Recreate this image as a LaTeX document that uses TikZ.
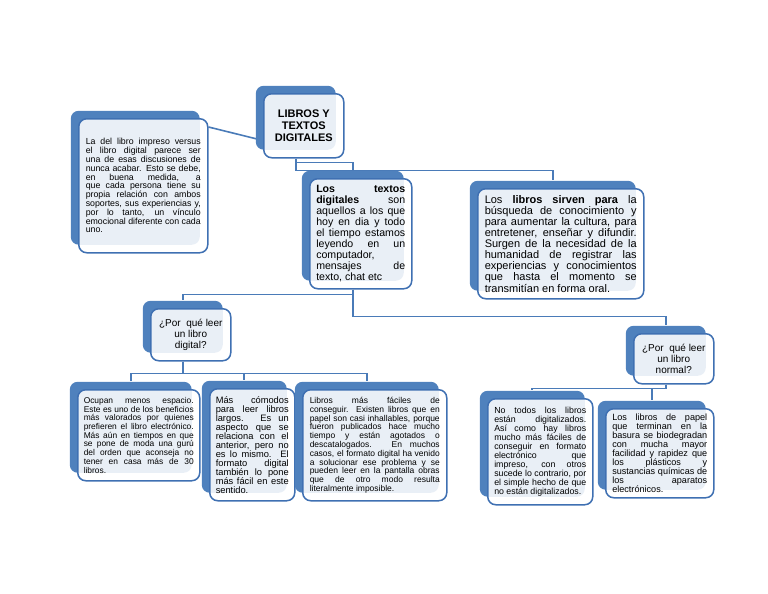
\documentclass[tikz,border=0pt]{standalone}
\usepackage{fontspec}
\setmainfont{Liberation Sans}
\usetikzlibrary{shadows, backgrounds}
\definecolor{backBlue}{HTML}{4F81BD}
\definecolor{edgeBlue}{HTML}{3F70B2}
\definecolor{linkBlue}{HTML}{4A7BB8}
\hyphenpenalty=10000
\exhyphenpenalty=10000
\tolerance=9999
\emergencystretch=20pt
\tikzset{
  % front card over a solid blue copy pushed up and to the left
  card/.style      = {draw=edgeBlue, line width=1.5pt, rounded corners=8pt,
                      fill=white, fill opacity=0.88, text opacity=1,
                      anchor=north west, inner xsep=6pt, inner ysep=4pt, align=justify,
                      general shadow={fill=backBlue, fill opacity=1, draw=none,
                                      shadow xshift=-8pt, shadow yshift=8pt}},
  link/.style      = {draw=linkBlue, line width=1.6pt, rounded corners=0pt},
  bodytxt/.style 2 args = {font=\fontsize{#1}{#2}\selectfont},
  asktxt/.style    = {font=\fontsize{10}{11}\selectfont, align=center},
}

\begin{document}
\begin{tikzpicture}[x=1pt, y=-1pt]
  \useasboundingbox (0,0) rectangle (768,594);
  % --- top level ----------------------------------------------------------
  \node[card, align=center, font=\bfseries\fontsize{11}{12}\selectfont,
        minimum width=80pt, minimum height=64pt] (root) at (263,93)
        {LIBROS Y\\TEXTOS\\DIGITALES};
  \node[card, bodytxt={8.8}{8.8}, text width=115pt, minimum width=129pt, minimum height=134pt] (intro) at (78,118)
        {La del libro impreso versus\linebreak el libro digital parece ser\linebreak
         una de esas discusiones de\linebreak nunca acabar. Esto se debe,\linebreak
         en buena medida, a\linebreak que cada persona tiene su\linebreak
         propia relación con ambos\linebreak soportes, sus experiencias y,\linebreak
         por lo tanto, un vínculo\linebreak emocional diferente con cada\linebreak uno.};
  % --- second level ---------------------------------------------------------
  \node[card, bodytxt={10.6}{11}, text width=89pt, minimum width=102pt, minimum height=110pt] (digitales) at (309,178)
        {\textbf{Los textos}\linebreak \textbf{digitales} son\linebreak aquellos a los que\linebreak
         hoy en dia y todo\linebreak el tiempo estamos\linebreak leyendo en un\linebreak
         computador,\newline mensajes de\linebreak texto, chat etc};
  \node[card, bodytxt={11}{11.1}, text width=152pt, minimum width=166pt, minimum height=110pt] (libros) at (477,188)
        {Los \textbf{libros sirven para} la\linebreak búsqueda de conocimiento y\linebreak
         para aumentar la cultura, para\linebreak entretener, enseñar y difundir.\linebreak
         Surgen de la necesidad de la\linebreak humanidad de registrar las\linebreak
         experiencias y conocimientos\linebreak que hasta el momento se\linebreak
         transmitían en forma oral.};
  % --- questions --------------------------------------------------------------
  \node[card, asktxt, minimum width=80pt, minimum height=52pt] (qdigital) at (150,308)
        {¿Por\ \ qué leer\\un libro\\digital?};
  \node[card, asktxt, minimum width=80pt, minimum height=50pt] (qnormal) at (633,333)
        {¿Por\ \ qué leer\\un libro\\normal?};
  % --- answers ------------------------------------------------------------------
  \node[card, bodytxt={8.4}{8.7}, text width=110pt, minimum width=120pt, minimum height=91pt] (espacio) at (77,389)
        {Ocupan menos espacio.\linebreak Este es uno de los beneficios\linebreak
         más valorados por quienes\linebreak prefieren el libro electrónico.\linebreak
         Más aún en tiempos en que\linebreak se pone de moda una gurú\linebreak
         del orden que aconseja no\linebreak tener en casa más de 30\linebreak libros.};
  \node[card, bodytxt={9.3}{9}, text width=73pt, minimum width=84pt, minimum height=112pt] (comodos) at (209,388)
        {Más cómodos\linebreak para leer libros\linebreak largos. Es un\linebreak
         aspecto que se\linebreak relaciona con el\linebreak anterior, pero no\linebreak
         es lo mismo. El\linebreak formato digital\linebreak también lo pone\linebreak
         más fácil en este\linebreak sentido.};
  \node[card, bodytxt={8.5}{8.8}, text width=130pt, minimum width=144pt, minimum height=111pt] (faciles) at (302,389)
        {Libros más fáciles de\linebreak conseguir. Existen libros que en\linebreak
         papel son casi inhallables, porque\linebreak fueron publicados hace mucho\linebreak
         tiempo y están agotados o\linebreak descatalogados. En muchos\linebreak
         casos, el formato digital ha venido\linebreak a solucionar ese problema y se\linebreak
         pueden leer en la pantalla obras\linebreak que de otro modo resulta\linebreak
         literalmente imposible.};
  \node[card, bodytxt={8.8}{9.1}, text width=92pt, minimum width=105pt, minimum height=106pt] (notodos) at (487,398)
        {No todos los libros\linebreak están digitalizados.\linebreak Así como hay libros\linebreak
         mucho más fáciles de\linebreak conseguir en formato\linebreak electrónico que\linebreak
         impreso, con otros\linebreak sucede lo contrario, por\linebreak
         el simple hecho de que\linebreak no están digitalizados.};
  \node[card, bodytxt={9.1}{9}, text width=95pt, minimum width=108pt, minimum height=89pt] (papel) at (605,408)
        {Los libros de papel\linebreak que terminan en la\linebreak basura se biodegradan\linebreak
         con mucha mayor\linebreak facilidad y rapidez que\linebreak los plásticos y\linebreak
         sustancias químicas de\linebreak los aparatos\linebreak electrónicos.};
  % --- connectors, behind the cards ---------------------------------------------
  \begin{scope}[on background layer]
    \draw[link] ([yshift=-9pt]intro.north east) -- ([shift={(-7pt,-13pt)}]root.west);
    \draw[link] ([xshift=-8pt]root.south) -- ++(0,-4pt) -| ([shift={(-8pt,8pt)}]digitales.north);
    \draw[link] ([xshift=-8pt]root.south) -- ++(0,-12pt) -| ([shift={(-8pt,8pt)}]libros.north);
    \draw[link] ([xshift=-8pt]digitales.south) -- ++(0,-5pt) -| ([shift={(-8pt,8pt)}]qdigital.north);
    \draw[link] ([xshift=-8pt]digitales.south) -- ++(0,-27pt) -| ([shift={(-8pt,8pt)}]qnormal.north);
    \foreach \kid in {espacio, comodos, faciles}
      \draw[link] ([xshift=-8pt]qdigital.south) -- ++(0,-12pt) -| ([shift={(-8pt,8pt)}]\kid.north);
    \foreach \kid in {notodos, papel}
      \draw[link] ([xshift=-8pt]qnormal.south) -- ++(0,-4pt) -| ([shift={(-8pt,8pt)}]\kid.north);
  \end{scope}
\end{tikzpicture}
\end{document}
